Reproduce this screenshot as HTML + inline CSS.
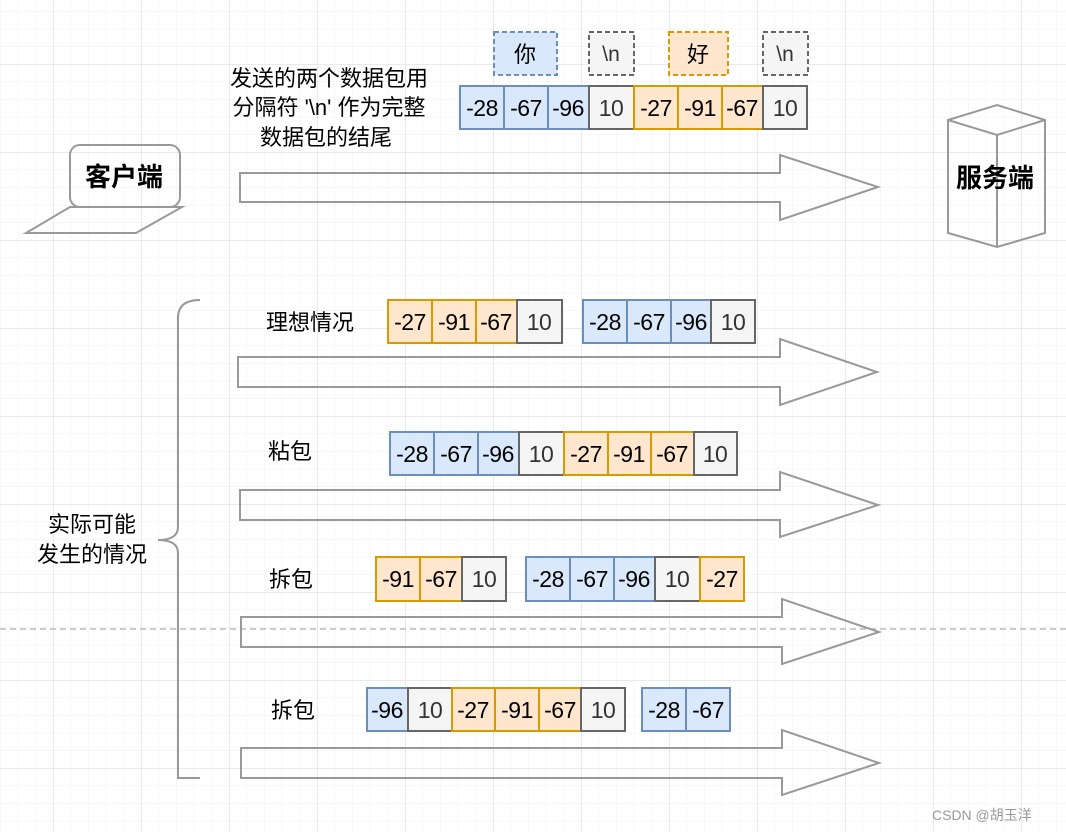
<!DOCTYPE html>
<html><head><meta charset="utf-8"><style>
html,body{margin:0;padding:0;background:#fff;}
svg{display:block;}
text{font-family:"Liberation Sans","Noto Sans CJK SC",sans-serif;}
</style></head><body>
<svg width="1066" height="832" viewBox="0 0 1066 832" xmlns="http://www.w3.org/2000/svg">
<defs>
<pattern id="minor" width="17.6" height="17.6" patternUnits="userSpaceOnUse" patternTransform="translate(53,64)">
<path d="M0 0H17.6M0 0V17.6" stroke="#efefef" stroke-width="1" fill="none"/>
</pattern>
<pattern id="major" width="88" height="88" patternUnits="userSpaceOnUse" patternTransform="translate(53,64)">
<path d="M0 0H88M0 0V88" stroke="#d4d4d4" stroke-width="1" fill="none"/>
</pattern>
</defs>
<rect width="1066" height="832" fill="#fff"/>
<rect width="1066" height="832" fill="url(#minor)"/>
<rect width="1066" height="832" fill="url(#major)"/>

<g stroke="#999" stroke-width="2" fill="none">
<polygon points="240,173 780,173 780,155 878,187 780,220 780,202 240,202"/>
<polygon points="238,357 780,357 780,339 877,372 780,405 780,387 238,387"/>
<polygon points="240,490 780,490 780,472 878,505 780,537 780,520 240,520"/>
<line x1="0" y1="629" x2="1066" y2="629" stroke="#bbb" stroke-width="1.5" stroke-dasharray="6,4"/>
<polygon points="241,617 782,617 782,599 879,632 782,664 782,647 241,647"/>
<polygon points="241,748 782,748 782,730 879,763 782,795 782,778 241,778"/>
<rect x="70" y="145" width="110" height="62" rx="10" ry="10"/>
<polygon points="70,207 182,207 136,233 26,233"/>
<polygon points="948,120 997,105 1045,120 1045,233 997,247 948,233"/>
<polyline points="948,120 997,135 1045,120"/>
<line x1="997" y1="135" x2="997" y2="247"/>
<path d="M200,300 Q178,300 178,318 L178,527 Q178,540 158,540 Q178,540 178,553 L178,778 L200,778"/>
</g>

<g font-size="26" font-weight="bold" fill="#000" text-anchor="middle">
<text x="124" y="186">客户端</text>
<text x="995" y="187">服务端</text>
</g>

<g font-size="22" fill="#000" text-anchor="middle">
<text x="329" y="86">发送的两个数据包用</text>
<text x="329" y="115">分隔符 '\n' 作为完整</text>
<text x="326" y="145">数据包的结尾</text>
<text x="310" y="330">理想情况</text>
<text x="290" y="459">粘包</text>
<text x="291" y="587">拆包</text>
<text x="293" y="718">拆包</text>
<text x="92" y="532">实际可能</text>
<text x="92" y="562">发生的情况</text>
</g>

<g stroke-width="2" stroke-dasharray="5,3">
<rect x="494" y="32" width="63" height="43" fill="#dae8fc" stroke="#6c8ebf"/>
<rect x="589" y="32" width="45" height="43" fill="#f5f5f5" stroke="#666"/>
<rect x="669" y="32" width="59" height="43" fill="#ffe6cc" stroke="#d79b00"/>
<rect x="763" y="32" width="45" height="43" fill="#f5f5f5" stroke="#666"/>
</g>
<g font-size="22" text-anchor="middle" fill="#000">
<text x="525" y="62">你</text>
<text x="611" y="61" fill="#333" font-size="21">\n</text>
<text x="698" y="62">好</text>
<text x="785" y="61" fill="#333" font-size="21">\n</text>
</g>

<g stroke-width="2" font-size="23" text-anchor="middle" letter-spacing="-0.5">
<g>
<rect x="460" y="86" width="44" height="43" fill="#dae8fc" stroke="#6c8ebf"/>
<rect x="504" y="86" width="44" height="43" fill="#dae8fc" stroke="#6c8ebf"/>
<rect x="548" y="86" width="41" height="43" fill="#dae8fc" stroke="#6c8ebf"/>
<rect x="589" y="86" width="45" height="43" fill="#f5f5f5" stroke="#666"/>
<rect x="634" y="86" width="44" height="43" fill="#ffe6cc" stroke="#d79b00"/>
<rect x="678" y="86" width="44" height="43" fill="#ffe6cc" stroke="#d79b00"/>
<rect x="722" y="86" width="41" height="43" fill="#ffe6cc" stroke="#d79b00"/>
<rect x="763" y="86" width="44" height="43" fill="#f5f5f5" stroke="#666"/>
</g>
<g stroke="none" fill="#000">
<text x="482" y="116">-28</text><text x="526" y="116">-67</text><text x="568" y="116">-96</text><text x="611" y="116" fill="#333">10</text>
<text x="656" y="116">-27</text><text x="700" y="116">-91</text><text x="742" y="116">-67</text><text x="785" y="116" fill="#333">10</text>
</g>

<g>
<rect x="388" y="300" width="44" height="43" fill="#ffe6cc" stroke="#d79b00"/>
<rect x="432" y="300" width="44" height="43" fill="#ffe6cc" stroke="#d79b00"/>
<rect x="476" y="300" width="41" height="43" fill="#ffe6cc" stroke="#d79b00"/>
<rect x="517" y="300" width="45" height="43" fill="#f5f5f5" stroke="#666"/>
<rect x="583" y="300" width="44" height="43" fill="#dae8fc" stroke="#6c8ebf"/>
<rect x="627" y="300" width="44" height="43" fill="#dae8fc" stroke="#6c8ebf"/>
<rect x="671" y="300" width="40" height="43" fill="#dae8fc" stroke="#6c8ebf"/>
<rect x="711" y="300" width="44" height="43" fill="#f5f5f5" stroke="#666"/>
</g>
<g stroke="none" fill="#000">
<text x="410" y="330">-27</text><text x="454" y="330">-91</text><text x="496" y="330">-67</text><text x="539" y="330" fill="#333">10</text>
<text x="605" y="330">-28</text><text x="649" y="330">-67</text><text x="691" y="330">-96</text><text x="733" y="330" fill="#333">10</text>
</g>

<g>
<rect x="390" y="432" width="44" height="43" fill="#dae8fc" stroke="#6c8ebf"/>
<rect x="434" y="432" width="44" height="43" fill="#dae8fc" stroke="#6c8ebf"/>
<rect x="478" y="432" width="41" height="43" fill="#dae8fc" stroke="#6c8ebf"/>
<rect x="519" y="432" width="45" height="43" fill="#f5f5f5" stroke="#666"/>
<rect x="564" y="432" width="44" height="43" fill="#ffe6cc" stroke="#d79b00"/>
<rect x="608" y="432" width="43" height="43" fill="#ffe6cc" stroke="#d79b00"/>
<rect x="651" y="432" width="43" height="43" fill="#ffe6cc" stroke="#d79b00"/>
<rect x="694" y="432" width="43" height="43" fill="#f5f5f5" stroke="#666"/>
</g>
<g stroke="none" fill="#000">
<text x="412" y="462">-28</text><text x="456" y="462">-67</text><text x="498" y="462">-96</text><text x="541" y="462" fill="#333">10</text>
<text x="586" y="462">-27</text><text x="629" y="462">-91</text><text x="672" y="462">-67</text><text x="715" y="462" fill="#333">10</text>
</g>

<g>
<rect x="376" y="557" width="44" height="44" fill="#ffe6cc" stroke="#d79b00"/>
<rect x="420" y="557" width="42" height="44" fill="#ffe6cc" stroke="#d79b00"/>
<rect x="462" y="557" width="44" height="44" fill="#f5f5f5" stroke="#666"/>
<rect x="526" y="557" width="44" height="44" fill="#dae8fc" stroke="#6c8ebf"/>
<rect x="570" y="557" width="44" height="44" fill="#dae8fc" stroke="#6c8ebf"/>
<rect x="614" y="557" width="41" height="44" fill="#dae8fc" stroke="#6c8ebf"/>
<rect x="655" y="557" width="45" height="44" fill="#f5f5f5" stroke="#666"/>
<rect x="700" y="557" width="44" height="44" fill="#ffe6cc" stroke="#d79b00"/>
</g>
<g stroke="none" fill="#000">
<text x="398" y="587">-91</text><text x="441" y="587">-67</text><text x="484" y="587" fill="#333">10</text>
<text x="548" y="587">-28</text><text x="592" y="587">-67</text><text x="634" y="587">-96</text><text x="677" y="587" fill="#333">10</text><text x="722" y="587">-27</text>
</g>

<g>
<rect x="367" y="688" width="41" height="43" fill="#dae8fc" stroke="#6c8ebf"/>
<rect x="408" y="688" width="44" height="43" fill="#f5f5f5" stroke="#666"/>
<rect x="452" y="688" width="43" height="43" fill="#ffe6cc" stroke="#d79b00"/>
<rect x="495" y="688" width="44" height="43" fill="#ffe6cc" stroke="#d79b00"/>
<rect x="539" y="688" width="42" height="43" fill="#ffe6cc" stroke="#d79b00"/>
<rect x="581" y="688" width="44" height="43" fill="#f5f5f5" stroke="#666"/>
<rect x="642" y="688" width="44" height="43" fill="#dae8fc" stroke="#6c8ebf"/>
<rect x="686" y="688" width="44" height="43" fill="#dae8fc" stroke="#6c8ebf"/>
</g>
<g stroke="none" fill="#000">
<text x="387" y="718">-96</text><text x="430" y="718" fill="#333">10</text><text x="473" y="718">-27</text><text x="517" y="718">-91</text><text x="560" y="718">-67</text><text x="603" y="718" fill="#333">10</text>
<text x="664" y="718">-28</text><text x="708" y="718">-67</text>
</g>
</g>

<text x="932" y="820" font-size="14" fill="#999">CSDN @胡玉洋</text>
</svg>
</body></html>
